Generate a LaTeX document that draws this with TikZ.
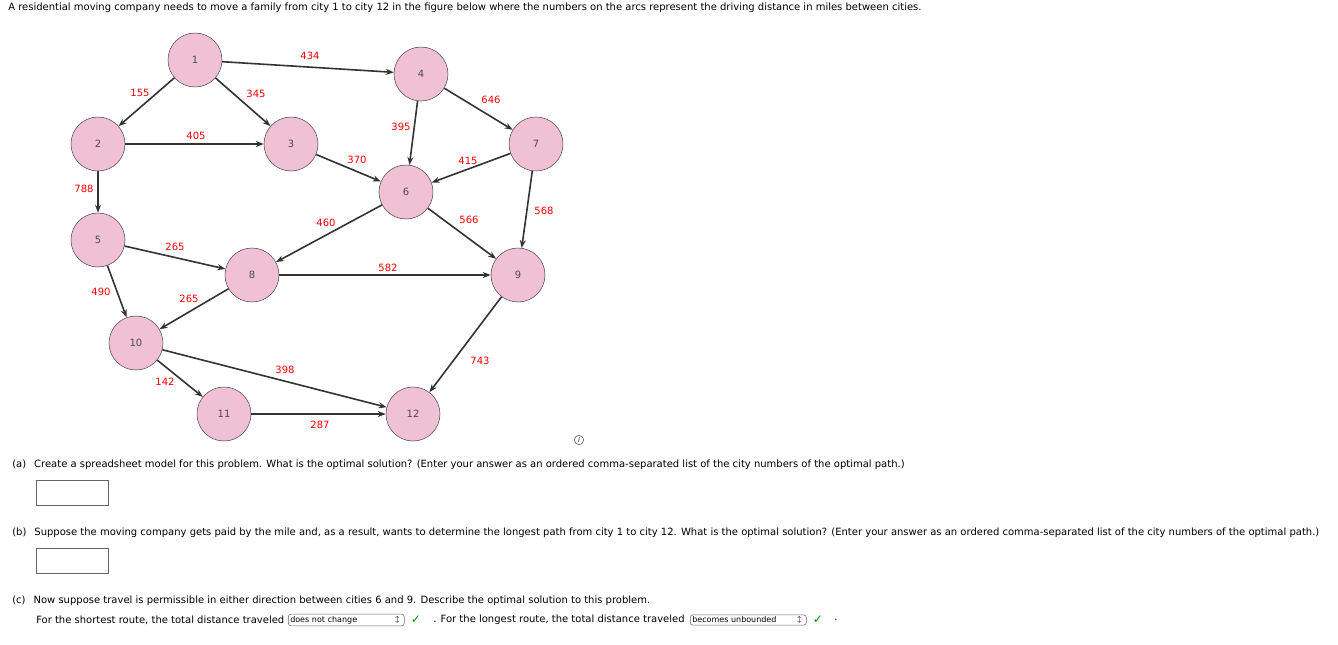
\documentclass[tikz,border=0pt]{standalone}
\usepackage{fontspec}
\setmainfont{DejaVu Sans}
\usetikzlibrary{arrows.meta}
\definecolor{cityfill}{HTML}{F0C0D5}
\begin{document}
\begin{tikzpicture}[x=0.75pt,y=-0.75pt,
 city/.style={circle,draw=black!70,fill=cityfill,minimum size=40.5pt,inner sep=0pt,font=\fontsize{7.5}{8}\selectfont\color{black!70}},
 edge/.style={-{Stealth[length=6pt,width=4.5pt]},line width=1.2pt,black!80},
 dist/.style={font=\fontsize{7.5}{9}\selectfont,text=red},
 txt/.style={font=\fontsize{7.5}{9}\selectfont,anchor=west,inner sep=0pt},
 ansbox/.style={draw=black!60,minimum width=54pt,minimum height=18.5pt,inner sep=0pt},
 dd/.style={draw=black!60,rounded corners=2pt,font=\fontsize{6}{7}\selectfont,anchor=west,inner sep=1.5pt,align=left},
 chk/.style={text=green!60!black,font=\fontsize{9}{9}\selectfont\bfseries}]
\useasboundingbox (0,0) rectangle (1338,644);
\node[txt] (t) at (8,8) {A residential moving company needs to move a family from city 1 to city 12 in the figure below where the numbers on the arcs represent the driving distance in miles between cities.};
\node[city] (n1) at (195,60) {1};
\node[city] (n4) at (421,74) {4};
\node[city] (n2) at (98,144) {2};
\node[city] (n3) at (291,144) {3};
\node[city] (n7) at (536,144) {7};
\node[city] (n6) at (406,192) {6};
\node[city] (n5) at (98,240) {5};
\node[city] (n8) at (252,275) {8};
\node[city] (n9) at (518,275) {9};
\node[city] (n10) at (136,343) {10};
\node[city] (n11) at (224,414) {11};
\node[city] (n12) at (413,414) {12};
\foreach \a/\b in {n1/n2,n1/n3,n1/n4,n2/n3,n2/n5,n3/n6,n4/n6,n4/n7,n7/n6,n7/n9,n6/n8,n6/n9,n5/n8,n5/n10,n8/n9,n8/n10,n10/n11,n10/n12,n11/n12,n9/n12}
  \draw[edge] (\a) -- (\b);
\node[dist] (d1) at (310,56) {434};
\node[dist] (d2) at (140,93) {155};
\node[dist] (d3) at (256,94) {345};
\node[dist] (d4) at (491,100) {646};
\node[dist] (d5) at (196,136) {405};
\node[dist] (d6) at (401,127) {395};
\node[dist] (d7) at (357,160) {370};
\node[dist] (d8) at (468,161) {415};
\node[dist] (d9) at (84,189) {788};
\node[dist] (d10) at (544,211) {568};
\node[dist] (d11) at (326,223) {460};
\node[dist] (d12) at (469,220) {566};
\node[dist] (d13) at (175,247) {265};
\node[dist] (d14) at (388,268) {582};
\node[dist] (d15) at (101,292) {490};
\node[dist] (d16) at (189,299) {265};
\node[dist] (d17) at (480,361) {743};
\node[dist] (d18) at (285,370) {398};
\node[dist] (d19) at (165,382) {142};
\node[dist] (d20) at (320,425) {287};
\node[circle,draw=black!70,inner sep=0pt,minimum size=7pt,font=\fontsize{5}{5}\selectfont\itshape] (info) at (579,440) {i};
\node[txt] (qa) at (12,465) {(a)\hspace{6pt}Create a spreadsheet model for this problem. What is the optimal solution? (Enter your answer as an ordered comma-separated list of the city numbers of the optimal path.)};
\node[ansbox,anchor=north west] (ba) at (36,480) {};
\node[txt] (qb) at (12,533) {(b)\hspace{6pt}Suppose the moving company gets paid by the mile and, as a result, wants to determine the longest path from city 1 to city 12. What is the optimal solution? (Enter your answer as an ordered comma-separated list of the city numbers of the optimal path.)};
\node[ansbox,anchor=north west] (bb) at (36,548) {};
\node[txt] (qc) at (12,601) {(c)\hspace{6pt}Now suppose travel is permissible in either direction between cities 6 and 9. Describe the optimal solution to this problem.};
\node[txt] (l1) at (36,620) {For the shortest route, the total distance traveled};
\node[dd,text width=84pt] (s1) at (288,620) {does not change};
\node[font=\fontsize{5}{5}\selectfont,anchor=east] (a1) at (s1.east) {$\updownarrow$};
\node[chk] (c1) at (416,620) {✓};
\node[txt] (l2) at (433,620) {. For the longest route, the total distance traveled};
\node[dd,text width=84pt] (s2) at (690,620) {becomes unbounded};
\node[font=\fontsize{5}{5}\selectfont,anchor=east] (a2) at (s2.east) {$\updownarrow$};
\node[chk] (c2) at (818,620) {✓};
\node[txt] (l3) at (834,620) {.};
\end{tikzpicture}
\end{document}
